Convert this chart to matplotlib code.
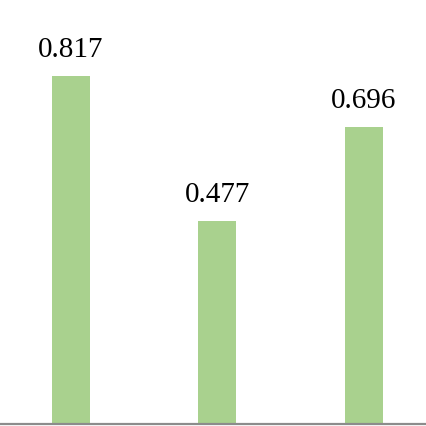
import matplotlib
matplotlib.use("Agg")
import matplotlib.pyplot as plt

categories = ["A", "B", "C"]
values = [0.817, 0.477, 0.696]
labels = ["0.817", "0.477", "0.696"]

fig = plt.figure(figsize=(4.27, 4.27), dpi=100)
H = 427.0
y0_px = 2.5            # pixel distance from bottom to y=0
scale = 425.3          # pixels per unit
ax = fig.add_axes([0, y0_px / H, 1, scale / H])
ax.set_ylim(0, 1)
x = list(range(len(categories)))
ax.set_xlim(-0.485, 2.433)
ax.bar(x, values, width=0.26, color="#a9d18e", zorder=2)
ax.axhline(0, color="#8c8c8c", linewidth=1.6, zorder=3, clip_on=False)
for xi, v, lab in zip(x, values, labels):
    ax.annotate(lab, (xi, v), xytext=(0, 14.4), textcoords="offset points",
                ha="center", va="baseline", fontsize=21,
                family=["Liberation Serif", "DejaVu Serif"], color="#000000")
ax.axis("off")
fig.savefig("out.png", dpi=100)
